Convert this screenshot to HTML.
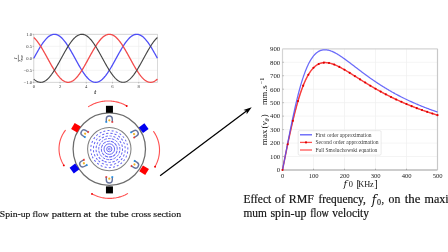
<!DOCTYPE html>
<html><head><meta charset="utf-8"><style>
html,body{margin:0;padding:0;background:#fff;overflow:hidden}
svg{display:block}
</style></head><body>
<svg width="448" height="252" viewBox="0 0 448 252">
<g>
<line x1="33.8" y1="34.3" x2="33.8" y2="82.3" stroke="#ebebeb" stroke-width="0.6"/>
<line x1="60.03" y1="34.3" x2="60.03" y2="82.3" stroke="#ebebeb" stroke-width="0.6"/>
<line x1="86.26" y1="34.3" x2="86.26" y2="82.3" stroke="#ebebeb" stroke-width="0.6"/>
<line x1="112.49" y1="34.3" x2="112.49" y2="82.3" stroke="#ebebeb" stroke-width="0.6"/>
<line x1="138.71" y1="34.3" x2="138.71" y2="82.3" stroke="#ebebeb" stroke-width="0.6"/>
<line x1="33.8" y1="34.3" x2="157.4" y2="34.3" stroke="#ebebeb" stroke-width="0.6"/>
<line x1="33.8" y1="46.3" x2="157.4" y2="46.3" stroke="#ebebeb" stroke-width="0.6"/>
<line x1="33.8" y1="58.3" x2="157.4" y2="58.3" stroke="#ebebeb" stroke-width="0.6"/>
<line x1="33.8" y1="70.3" x2="157.4" y2="70.3" stroke="#ebebeb" stroke-width="0.6"/>
<line x1="33.8" y1="82.3" x2="157.4" y2="82.3" stroke="#ebebeb" stroke-width="0.6"/>
<rect x="33.8" y="34.3" width="123.6" height="48" fill="none" stroke="#d0d0d0" stroke-width="0.8"/>
<polyline points="33.8,58.3 34.42,57.17 35.04,56.04 35.65,54.92 36.27,53.8 36.89,52.7 37.51,51.6 38.13,50.53 38.74,49.47 39.36,48.42 39.98,47.4 40.6,46.41 41.22,45.44 41.83,44.5 42.45,43.59 43.07,42.71 43.69,41.87 44.31,41.06 44.92,40.3 45.54,39.57 46.16,38.88 46.78,38.24 47.4,37.64 48.01,37.09 48.63,36.58 49.25,36.13 49.87,35.72 50.49,35.36 51.1,35.05 51.72,34.8 52.34,34.6 52.96,34.44 53.58,34.35 54.19,34.3 54.81,34.31 55.43,34.37 56.05,34.49 56.67,34.66 57.28,34.88 57.9,35.15 58.52,35.47 59.14,35.85 59.76,36.27 60.37,36.75 60.99,37.27 61.61,37.84 62.23,38.45 62.85,39.11 63.46,39.81 64.08,40.55 64.7,41.33 65.32,42.15 65.94,43 66.55,43.89 67.17,44.81 67.79,45.76 68.41,46.74 69.03,47.74 69.64,48.77 70.26,49.82 70.88,50.88 71.5,51.97 72.12,53.06 72.73,54.17 73.35,55.29 73.97,56.42 74.59,57.55 75.21,58.68 75.82,59.81 76.44,60.93 77.06,62.05 77.68,63.17 78.3,64.27 78.91,65.36 79.53,66.43 80.15,67.48 80.77,68.52 81.39,69.53 82,70.52 82.62,71.48 83.24,72.41 83.86,73.31 84.48,74.17 85.09,75 85.71,75.8 86.33,76.55 86.95,77.26 87.57,77.94 88.18,78.56 88.8,79.15 89.42,79.68 90.04,80.17 90.66,80.61 91.27,81.01 91.89,81.35 92.51,81.64 93.13,81.87 93.75,82.06 94.36,82.19 94.98,82.27 95.6,82.3 96.22,82.27 96.84,82.19 97.45,82.06 98.07,81.87 98.69,81.64 99.31,81.35 99.93,81.01 100.54,80.61 101.16,80.17 101.78,79.68 102.4,79.15 103.02,78.56 103.63,77.94 104.25,77.26 104.87,76.55 105.49,75.8 106.11,75 106.72,74.17 107.34,73.31 107.96,72.41 108.58,71.48 109.2,70.52 109.81,69.53 110.43,68.52 111.05,67.48 111.67,66.43 112.29,65.36 112.9,64.27 113.52,63.17 114.14,62.05 114.76,60.93 115.38,59.81 115.99,58.68 116.61,57.55 117.23,56.42 117.85,55.29 118.47,54.17 119.08,53.06 119.7,51.97 120.32,50.88 120.94,49.82 121.56,48.77 122.17,47.74 122.79,46.74 123.41,45.76 124.03,44.81 124.65,43.89 125.26,43 125.88,42.15 126.5,41.33 127.12,40.55 127.74,39.81 128.35,39.11 128.97,38.45 129.59,37.84 130.21,37.27 130.83,36.75 131.44,36.27 132.06,35.85 132.68,35.47 133.3,35.15 133.92,34.88 134.53,34.66 135.15,34.49 135.77,34.37 136.39,34.31 137.01,34.3 137.62,34.35 138.24,34.44 138.86,34.6 139.48,34.8 140.1,35.05 140.71,35.36 141.33,35.72 141.95,36.13 142.57,36.58 143.19,37.09 143.8,37.64 144.42,38.24 145.04,38.88 145.66,39.57 146.28,40.3 146.89,41.06 147.51,41.87 148.13,42.71 148.75,43.59 149.37,44.5 149.98,45.44 150.6,46.41 151.22,47.4 151.84,48.42 152.46,49.47 153.07,50.53 153.69,51.6 154.31,52.7 154.93,53.8 155.55,54.92 156.16,56.04 156.78,57.17 157.4,58.3" fill="none" stroke="#4f4ff7" stroke-width="1.3"/>
<polyline points="33.8,37.52 34.42,38.1 35.04,38.74 35.65,39.41 36.27,40.13 36.89,40.89 37.51,41.69 38.13,42.52 38.74,43.39 39.36,44.3 39.98,45.23 40.6,46.19 41.22,47.18 41.83,48.2 42.45,49.23 43.07,50.29 43.69,51.36 44.31,52.45 44.92,53.56 45.54,54.67 46.16,55.79 46.78,56.92 47.4,58.05 48.01,59.18 48.63,60.31 49.25,61.43 49.87,62.55 50.49,63.66 51.1,64.75 51.72,65.84 52.34,66.9 52.96,67.95 53.58,68.97 54.19,69.97 54.81,70.95 55.43,71.89 56.05,72.81 56.67,73.69 57.28,74.55 57.9,75.36 58.52,76.14 59.14,76.87 59.76,77.57 60.37,78.22 60.99,78.83 61.61,79.39 62.23,79.91 62.85,80.38 63.46,80.79 64.08,81.16 64.7,81.48 65.32,81.75 65.94,81.96 66.55,82.13 67.17,82.24 67.79,82.29 68.41,82.29 69.03,82.24 69.64,82.14 70.26,81.98 70.88,81.78 71.5,81.51 72.12,81.2 72.73,80.84 73.35,80.42 73.97,79.96 74.59,79.45 75.21,78.89 75.82,78.29 76.44,77.64 77.06,76.95 77.68,76.22 78.3,75.45 78.91,74.64 79.53,73.79 80.15,72.91 80.77,72 81.39,71.05 82,70.08 82.62,69.08 83.24,68.06 83.86,67.02 84.48,65.96 85.09,64.88 85.71,63.78 86.33,62.67 86.95,61.56 87.57,60.43 88.18,59.31 88.8,58.17 89.42,57.04 90.04,55.92 90.66,54.79 91.27,53.68 91.89,52.58 92.51,51.48 93.13,50.41 93.75,49.35 94.36,48.31 94.98,47.29 95.6,46.3 96.22,45.33 96.84,44.4 97.45,43.49 98.07,42.62 98.69,41.78 99.31,40.98 99.93,40.21 100.54,39.49 101.16,38.81 101.78,38.17 102.4,37.58 103.02,37.03 103.63,36.53 104.25,36.08 104.87,35.68 105.49,35.32 106.11,35.02 106.72,34.77 107.34,34.58 107.96,34.43 108.58,34.34 109.2,34.3 109.81,34.32 110.43,34.38 111.05,34.51 111.67,34.68 112.29,34.91 112.9,35.18 113.52,35.51 114.14,35.89 114.76,36.32 115.38,36.8 115.99,37.33 116.61,37.9 117.23,38.52 117.85,39.18 118.47,39.89 119.08,40.63 119.7,41.42 120.32,42.24 120.94,43.1 121.56,43.99 122.17,44.91 122.79,45.87 123.41,46.85 124.03,47.85 124.65,48.88 125.26,49.93 125.88,51 126.5,52.09 127.12,53.19 127.74,54.3 128.35,55.42 128.97,56.54 129.59,57.67 130.21,58.8 130.83,59.93 131.44,61.06 132.06,62.18 132.68,63.29 133.3,64.39 133.92,65.48 134.53,66.55 135.15,67.6 135.77,68.63 136.39,69.64 137.01,70.62 137.62,71.58 138.24,72.51 138.86,73.4 139.48,74.27 140.1,75.09 140.71,75.88 141.33,76.63 141.95,77.34 142.57,78.01 143.19,78.63 143.8,79.21 144.42,79.74 145.04,80.23 145.66,80.66 146.28,81.05 146.89,81.38 147.51,81.67 148.13,81.9 148.75,82.08 149.37,82.2 149.98,82.28 150.6,82.3 151.22,82.27 151.84,82.18 152.46,82.04 153.07,81.85 153.69,81.61 154.31,81.31 154.93,80.97 155.55,80.57 156.16,80.12 156.78,79.63 157.4,79.08" fill="none" stroke="#f24a4a" stroke-width="1.3"/>
<polyline points="33.8,79.08 34.42,79.63 35.04,80.12 35.65,80.57 36.27,80.97 36.89,81.31 37.51,81.61 38.13,81.85 38.74,82.04 39.36,82.18 39.98,82.27 40.6,82.3 41.22,82.28 41.83,82.2 42.45,82.08 43.07,81.9 43.69,81.67 44.31,81.38 44.92,81.05 45.54,80.66 46.16,80.23 46.78,79.74 47.4,79.21 48.01,78.63 48.63,78.01 49.25,77.34 49.87,76.63 50.49,75.88 51.1,75.09 51.72,74.27 52.34,73.4 52.96,72.51 53.58,71.58 54.19,70.62 54.81,69.64 55.43,68.63 56.05,67.6 56.67,66.55 57.28,65.48 57.9,64.39 58.52,63.29 59.14,62.18 59.76,61.06 60.37,59.93 60.99,58.8 61.61,57.67 62.23,56.54 62.85,55.42 63.46,54.3 64.08,53.19 64.7,52.09 65.32,51 65.94,49.93 66.55,48.88 67.17,47.85 67.79,46.85 68.41,45.87 69.03,44.91 69.64,43.99 70.26,43.1 70.88,42.24 71.5,41.42 72.12,40.63 72.73,39.89 73.35,39.18 73.97,38.52 74.59,37.9 75.21,37.33 75.82,36.8 76.44,36.32 77.06,35.89 77.68,35.51 78.3,35.18 78.91,34.91 79.53,34.68 80.15,34.51 80.77,34.38 81.39,34.32 82,34.3 82.62,34.34 83.24,34.43 83.86,34.58 84.48,34.77 85.09,35.02 85.71,35.32 86.33,35.68 86.95,36.08 87.57,36.53 88.18,37.03 88.8,37.58 89.42,38.17 90.04,38.81 90.66,39.49 91.27,40.21 91.89,40.98 92.51,41.78 93.13,42.62 93.75,43.49 94.36,44.4 94.98,45.33 95.6,46.3 96.22,47.29 96.84,48.31 97.45,49.35 98.07,50.41 98.69,51.48 99.31,52.58 99.93,53.68 100.54,54.79 101.16,55.92 101.78,57.04 102.4,58.17 103.02,59.31 103.63,60.43 104.25,61.56 104.87,62.67 105.49,63.78 106.11,64.88 106.72,65.96 107.34,67.02 107.96,68.06 108.58,69.08 109.2,70.08 109.81,71.05 110.43,72 111.05,72.91 111.67,73.79 112.29,74.64 112.9,75.45 113.52,76.22 114.14,76.95 114.76,77.64 115.38,78.29 115.99,78.89 116.61,79.45 117.23,79.96 117.85,80.42 118.47,80.84 119.08,81.2 119.7,81.51 120.32,81.78 120.94,81.98 121.56,82.14 122.17,82.24 122.79,82.29 123.41,82.29 124.03,82.24 124.65,82.13 125.26,81.96 125.88,81.75 126.5,81.48 127.12,81.16 127.74,80.79 128.35,80.38 128.97,79.91 129.59,79.39 130.21,78.83 130.83,78.22 131.44,77.57 132.06,76.87 132.68,76.14 133.3,75.36 133.92,74.55 134.53,73.69 135.15,72.81 135.77,71.89 136.39,70.95 137.01,69.97 137.62,68.97 138.24,67.95 138.86,66.9 139.48,65.84 140.1,64.75 140.71,63.66 141.33,62.55 141.95,61.43 142.57,60.31 143.19,59.18 143.8,58.05 144.42,56.92 145.04,55.79 145.66,54.67 146.28,53.56 146.89,52.45 147.51,51.36 148.13,50.29 148.75,49.23 149.37,48.2 149.98,47.18 150.6,46.19 151.22,45.23 151.84,44.3 152.46,43.39 153.07,42.52 153.69,41.69 154.31,40.89 154.93,40.13 155.55,39.41 156.16,38.74 156.78,38.1 157.4,37.52" fill="none" stroke="#454545" stroke-width="1.15"/>
<text x="32" y="35.8" font-size="4.6" text-anchor="end" fill="#333" font-family="Liberation Serif, serif">1.0</text>
<line x1="32.6" y1="34.3" x2="33.8" y2="34.3" stroke="#777" stroke-width="0.5"/>
<text x="32" y="47.8" font-size="4.6" text-anchor="end" fill="#333" font-family="Liberation Serif, serif">0.5</text>
<line x1="32.6" y1="46.3" x2="33.8" y2="46.3" stroke="#777" stroke-width="0.5"/>
<text x="32" y="59.8" font-size="4.6" text-anchor="end" fill="#333" font-family="Liberation Serif, serif">0.0</text>
<line x1="32.6" y1="58.3" x2="33.8" y2="58.3" stroke="#777" stroke-width="0.5"/>
<text x="32" y="71.8" font-size="4.6" text-anchor="end" fill="#333" font-family="Liberation Serif, serif">−0.5</text>
<line x1="32.6" y1="70.3" x2="33.8" y2="70.3" stroke="#777" stroke-width="0.5"/>
<text x="32" y="83.8" font-size="4.6" text-anchor="end" fill="#333" font-family="Liberation Serif, serif">−1.0</text>
<line x1="32.6" y1="82.3" x2="33.8" y2="82.3" stroke="#777" stroke-width="0.5"/>
<text x="33.8" y="88.2" font-size="4.6" text-anchor="middle" fill="#333" font-family="Liberation Serif, serif">0</text>
<line x1="33.8" y1="82.3" x2="33.8" y2="83.39999999999999" stroke="#777" stroke-width="0.5"/>
<text x="60.03" y="88.2" font-size="4.6" text-anchor="middle" fill="#333" font-family="Liberation Serif, serif">2</text>
<line x1="60.03" y1="82.3" x2="60.03" y2="83.39999999999999" stroke="#777" stroke-width="0.5"/>
<text x="86.26" y="88.2" font-size="4.6" text-anchor="middle" fill="#333" font-family="Liberation Serif, serif">4</text>
<line x1="86.26" y1="82.3" x2="86.26" y2="83.39999999999999" stroke="#777" stroke-width="0.5"/>
<text x="112.49" y="88.2" font-size="4.6" text-anchor="middle" fill="#333" font-family="Liberation Serif, serif">6</text>
<line x1="112.49" y1="82.3" x2="112.49" y2="83.39999999999999" stroke="#777" stroke-width="0.5"/>
<text x="138.71" y="88.2" font-size="4.6" text-anchor="middle" fill="#333" font-family="Liberation Serif, serif">8</text>
<line x1="138.71" y1="82.3" x2="138.71" y2="83.39999999999999" stroke="#777" stroke-width="0.5"/>
<text x="94.2" y="93.5" font-size="6.8" font-style="italic" fill="#222" stroke="#222" stroke-width="0.15" font-family="Liberation Serif, serif">t</text>
<g transform="translate(17.3,58.3) rotate(-90)"><text x="0" y="0" font-size="5" text-anchor="middle" fill="#222" font-family="Liberation Serif, serif" font-style="italic">I</text><line x1="-3.5" y1="1.1" x2="3.5" y2="1.1" stroke="#333" stroke-width="0.55"/><text x="-3.4" y="4.7" font-size="4.6" fill="#222" font-family="Liberation Serif, serif" font-style="italic">I<tspan font-size="3.1" dy="0.7">max</tspan></text></g>
</g>
<g>
<circle cx="109.3" cy="149.1" r="0.9" fill="none" stroke="#6262f2" stroke-width="0.8"/>
<circle cx="109.3" cy="149.1" r="2.65" fill="none" stroke="#6262f2" stroke-width="0.95"/>
<circle cx="109.3" cy="149.1" r="5.3" fill="none" stroke="#6262f2" stroke-width="0.95"/>
<circle cx="109.3" cy="149.1" r="7.95" fill="none" stroke="#6262f2" stroke-width="0.95" stroke-dasharray="3.33 0.83" transform="rotate(69 109.3 149.1)"/>
<circle cx="109.3" cy="149.1" r="10.6" fill="none" stroke="#6262f2" stroke-width="0.95" stroke-dasharray="2.71 1.21" transform="rotate(92 109.3 149.1)"/>
<circle cx="109.3" cy="149.1" r="13.25" fill="none" stroke="#6262f2" stroke-width="0.95" stroke-dasharray="2.38 1.59" transform="rotate(115 109.3 149.1)"/>
<circle cx="109.3" cy="149.1" r="15.9" fill="none" stroke="#6262f2" stroke-width="0.95" stroke-dasharray="2.23 1.93" transform="rotate(138 109.3 149.1)"/>
<circle cx="109.3" cy="149.1" r="18.55" fill="none" stroke="#6262f2" stroke-width="0.95" stroke-dasharray="1.98 2.18" transform="rotate(161 109.3 149.1)"/>
<circle cx="109.3" cy="149.1" r="21.7" fill="none" stroke="#808080" stroke-width="1.05"/>
<circle cx="109.3" cy="149.1" r="36.2" fill="none" stroke="#6c6c6c" stroke-width="1.25"/>
<rect x="105.95" y="105.8" width="7" height="7" fill="#000" transform="rotate(0 109.45 109.3)"/>
<g transform="translate(109.3,119) rotate(0)"><path d="M-3,3 L-3,0 A3,3 0 0 1 3,0 L3,3" fill="none" stroke="#66739c" stroke-width="1.4"/><rect x="-3.9" y="2.2" width="1.8" height="1.6" fill="#1f8de0"/><rect x="2.1" y="2.2" width="1.8" height="1.6" fill="#e23a3a"/><circle cx="0" cy="1.3" r="1.1" fill="#f0b428"/></g>
<rect x="72.4" y="124.2" width="7" height="7" fill="#f00" transform="rotate(30.5 75.9 127.7)"/>
<g transform="translate(84.03,132.94) rotate(-57.4)"><path d="M-3,3 L-3,0 A3,3 0 0 1 3,0 L3,3" fill="none" stroke="#66739c" stroke-width="1.4"/><rect x="-3.9" y="2.2" width="1.8" height="1.6" fill="#1f8de0"/><rect x="2.1" y="2.2" width="1.8" height="1.6" fill="#e23a3a"/><circle cx="0" cy="1.3" r="1.1" fill="#f0b428"/></g>
<rect x="140.2" y="124.7" width="7" height="7" fill="#0000f0" transform="rotate(-37 143.7 128.2)"/>
<g transform="translate(135.19,133.36) rotate(58.7)"><path d="M-3,3 L-3,0 A3,3 0 0 1 3,0 L3,3" fill="none" stroke="#66739c" stroke-width="1.4"/><rect x="-3.9" y="2.2" width="1.8" height="1.6" fill="#1f8de0"/><rect x="2.1" y="2.2" width="1.8" height="1.6" fill="#e23a3a"/><circle cx="0" cy="1.3" r="1.1" fill="#f0b428"/></g>
<rect x="71" y="165" width="7" height="7" fill="#0000f0" transform="rotate(-37 74.5 168.5)"/>
<g transform="translate(82.74,163.88) rotate(-119.1)"><path d="M-3,3 L-3,0 A3,3 0 0 1 3,0 L3,3" fill="none" stroke="#66739c" stroke-width="1.4"/><rect x="-3.9" y="2.2" width="1.8" height="1.6" fill="#1f8de0"/><rect x="2.1" y="2.2" width="1.8" height="1.6" fill="#e23a3a"/><circle cx="0" cy="1.3" r="1.1" fill="#f0b428"/></g>
<rect x="140.6" y="166.7" width="7" height="7" fill="#f00" transform="rotate(31.7 144.1 170.2)"/>
<g transform="translate(135.56,165) rotate(-238.8)"><path d="M-3,3 L-3,0 A3,3 0 0 1 3,0 L3,3" fill="none" stroke="#66739c" stroke-width="1.4"/><rect x="-3.9" y="2.2" width="1.8" height="1.6" fill="#1f8de0"/><rect x="2.1" y="2.2" width="1.8" height="1.6" fill="#e23a3a"/><circle cx="0" cy="1.3" r="1.1" fill="#f0b428"/></g>
<rect x="105.95" y="186.4" width="7" height="7" fill="#000" transform="rotate(0 109.45 189.9)"/>
<g transform="translate(109.3,180) rotate(-180)"><path d="M-3,3 L-3,0 A3,3 0 0 1 3,0 L3,3" fill="none" stroke="#66739c" stroke-width="1.4"/><rect x="-3.9" y="2.2" width="1.8" height="1.6" fill="#1f8de0"/><rect x="2.1" y="2.2" width="1.8" height="1.6" fill="#e23a3a"/><circle cx="0" cy="1.3" r="1.1" fill="#f0b428"/></g>
<polyline points="88.48,106.63 89.34,106.11 90.21,105.61 91.1,105.14 92,104.68 92.91,104.26 93.83,103.85 94.76,103.48 95.7,103.12 96.65,102.8 97.61,102.5 98.58,102.22 99.56,101.98 100.54,101.75 101.52,101.56 102.51,101.39 103.51,101.25 104.51,101.14 105.51,101.05 106.51,100.99 107.52,100.96 108.52,100.95 109.53,100.97 110.53,101.02 111.53,101.1 112.53,101.2 113.53,101.33 114.52,101.49 115.51,101.67 116.5,101.88 117.47,102.12 118.44,102.39 119.41,102.68 120.36,102.99 121.31,103.33 122.24,103.7 123.17,104.09 124.08,104.51 124.98,104.95 125.88,105.42 126.75,105.91" fill="none" stroke="#ff5050" stroke-width="1.1" stroke-linecap="round"/>
<circle cx="126.7" cy="106" r="0.95" fill="#ee0000"/>
<polyline points="127.57,193.62 126.76,194.07 125.93,194.5 125.1,194.91 124.26,195.3 123.4,195.66 122.54,196 121.67,196.32 120.79,196.62 119.9,196.89 119.01,197.15 118.11,197.38 117.2,197.58 116.29,197.77 115.37,197.93 114.46,198.06 113.53,198.17 112.61,198.26 111.68,198.33 110.76,198.37 109.83,198.39 108.9,198.38 107.97,198.35 107.04,198.3 106.12,198.22 105.19,198.12 104.27,198 103.36,197.85 102.44,197.68 101.54,197.49 100.63,197.27 99.74,197.03 98.85,196.77 97.96,196.48 97.09,196.17 96.22,195.84 95.36,195.49 94.51,195.11 93.67,194.72 92.84,194.3 92.02,193.86" fill="none" stroke="#ff5050" stroke-width="1.1" stroke-linecap="round"/>
<circle cx="92" cy="193.9" r="0.95" fill="#ee0000"/>
<polyline points="65.36,130.37 64.8,131.11 64.26,131.87 63.75,132.65 63.26,133.45 62.79,134.26 62.35,135.08 61.94,135.92 61.55,136.77 61.19,137.63 60.86,138.5 60.55,139.38 60.27,140.27 60.02,141.17 59.8,142.07 59.6,142.98 59.43,143.9 59.3,144.83 59.19,145.75 59.1,146.68 59.05,147.61 59.03,148.54 59.03,149.48 59.07,150.41 59.13,151.34 59.22,152.27 59.34,153.19 59.49,154.12 59.67,155.03 59.88,155.94 60.11,156.84 60.37,157.74 60.66,158.63 60.98,159.5 61.32,160.37 61.69,161.23 62.09,162.07 62.51,162.9 62.96,163.72 63.43,164.53 63.93,165.31" fill="none" stroke="#ff5050" stroke-width="1.1" stroke-linecap="round"/>
<circle cx="63.8" cy="165.4" r="0.95" fill="#ee0000"/>
<polyline points="153.61,131.55 154.14,132.32 154.64,133.09 155.12,133.89 155.58,134.69 156.01,135.51 156.42,136.35 156.81,137.19 157.17,138.04 157.5,138.91 157.82,139.78 158.1,140.67 158.36,141.56 158.59,142.45 158.8,143.36 158.98,144.27 159.14,145.18 159.27,146.1 159.37,147.02 159.44,147.95 159.49,148.87 159.51,149.8 159.5,150.73 159.47,151.66 159.41,152.58 159.33,153.5 159.21,154.43 159.07,155.34 158.9,156.25 158.71,157.16 158.49,158.06 158.25,158.96 157.98,159.85 157.68,160.72 157.36,161.59 157.01,162.45 156.64,163.3 156.24,164.14 155.82,164.97 155.38,165.78 154.91,166.58" fill="none" stroke="#ff5050" stroke-width="1.1" stroke-linecap="round"/>
<circle cx="155.1" cy="166.7" r="0.95" fill="#ee0000"/>
</g>
<line x1="160.1" y1="175.7" x2="248.5" y2="109.6" stroke="#000" stroke-width="1.25"/>
<path d="M251.7,107.2 L246.67,114.33 L246.65,110.97 L243.44,110.01 Z" fill="#000"/>
<line x1="313.5" y1="48.8" x2="313.5" y2="170.0" stroke="#efefef" stroke-width="0.7"/>
<line x1="344.5" y1="48.8" x2="344.5" y2="170.0" stroke="#efefef" stroke-width="0.7"/>
<line x1="375.5" y1="48.8" x2="375.5" y2="170.0" stroke="#efefef" stroke-width="0.7"/>
<line x1="406.5" y1="48.8" x2="406.5" y2="170.0" stroke="#efefef" stroke-width="0.7"/>
<line x1="282.5" y1="156.53" x2="437.5" y2="156.53" stroke="#efefef" stroke-width="0.7"/>
<line x1="282.5" y1="143.07" x2="437.5" y2="143.07" stroke="#efefef" stroke-width="0.7"/>
<line x1="282.5" y1="129.6" x2="437.5" y2="129.6" stroke="#efefef" stroke-width="0.7"/>
<line x1="282.5" y1="116.13" x2="437.5" y2="116.13" stroke="#efefef" stroke-width="0.7"/>
<line x1="282.5" y1="102.67" x2="437.5" y2="102.67" stroke="#efefef" stroke-width="0.7"/>
<line x1="282.5" y1="89.2" x2="437.5" y2="89.2" stroke="#efefef" stroke-width="0.7"/>
<line x1="282.5" y1="75.73" x2="437.5" y2="75.73" stroke="#efefef" stroke-width="0.7"/>
<line x1="282.5" y1="62.27" x2="437.5" y2="62.27" stroke="#efefef" stroke-width="0.7"/>
<line x1="282.5" y1="48.8" x2="437.5" y2="48.8" stroke="#d4d4d4" stroke-width="1.2"/>
<line x1="437.5" y1="48.8" x2="437.5" y2="170.0" stroke="#c8c8c8" stroke-width="1.2"/>
<line x1="282.5" y1="48.8" x2="282.5" y2="170.0" stroke="#d4d4d4" stroke-width="1.2"/>
<line x1="282.5" y1="170.0" x2="437.5" y2="170.0" stroke="#bdbdbd" stroke-width="1.5"/>
<line x1="282.5" y1="156.53" x2="283.8" y2="156.53" stroke="#888" stroke-width="0.6"/>
<line x1="282.5" y1="143.07" x2="283.8" y2="143.07" stroke="#888" stroke-width="0.6"/>
<line x1="282.5" y1="129.6" x2="283.8" y2="129.6" stroke="#888" stroke-width="0.6"/>
<line x1="282.5" y1="116.13" x2="283.8" y2="116.13" stroke="#888" stroke-width="0.6"/>
<line x1="282.5" y1="102.67" x2="283.8" y2="102.67" stroke="#888" stroke-width="0.6"/>
<line x1="282.5" y1="89.2" x2="283.8" y2="89.2" stroke="#888" stroke-width="0.6"/>
<line x1="282.5" y1="75.73" x2="283.8" y2="75.73" stroke="#888" stroke-width="0.6"/>
<line x1="282.5" y1="62.27" x2="283.8" y2="62.27" stroke="#888" stroke-width="0.6"/>
<line x1="313.5" y1="170.0" x2="313.5" y2="168.7" stroke="#888" stroke-width="0.6"/>
<line x1="344.5" y1="170.0" x2="344.5" y2="168.7" stroke="#888" stroke-width="0.6"/>
<line x1="375.5" y1="170.0" x2="375.5" y2="168.7" stroke="#888" stroke-width="0.6"/>
<line x1="406.5" y1="170.0" x2="406.5" y2="168.7" stroke="#888" stroke-width="0.6"/>
<polyline points="282.5,170 283.02,167.4 283.53,164.8 284.05,162.21 284.57,159.62 285.08,157.04 285.6,154.48 286.12,151.92 286.63,149.38 287.15,146.86 287.67,144.36 288.18,141.88 288.7,139.43 289.22,137 289.73,134.59 290.25,132.22 290.77,129.87 291.28,127.56 291.8,125.29 292.32,123.04 292.83,120.84 293.35,118.67 293.87,116.54 294.38,114.45 294.9,112.41 295.42,110.4 295.93,108.44 296.45,106.52 296.97,104.64 297.48,102.81 298,101.02 298.52,99.28 299.03,97.59 299.55,95.94 300.07,94.33 300.58,92.78 301.1,91.26 301.62,89.8 302.13,88.38 302.65,87 303.17,85.67 303.68,84.39 304.2,83.15 304.72,81.95 305.23,80.8 305.75,79.69 306.27,78.63 306.78,77.6 307.3,76.62 307.82,75.68 308.33,74.78 308.85,73.91 309.37,73.09 309.88,72.31 310.4,71.56 310.92,70.85 311.43,70.17 311.95,69.53 312.47,68.92 312.98,68.35 313.5,67.81 314.02,67.3 314.53,66.82 315.05,66.37 315.57,65.95 316.08,65.57 316.6,65.2 317.12,64.87 317.63,64.56 318.15,64.28 318.67,64.02 319.18,63.78 319.7,63.57 320.22,63.39 320.73,63.22 321.25,63.07 321.77,62.95 322.28,62.84 322.8,62.76 323.32,62.69 323.83,62.64 324.35,62.61 324.87,62.59 325.38,62.6 325.9,62.61 326.42,62.64 326.93,62.69 327.45,62.75 327.97,62.82 328.48,62.91 329,63.01 329.52,63.12 330.03,63.24 330.55,63.37 331.07,63.51 331.58,63.66 332.1,63.83 332.62,64 333.13,64.18 333.65,64.37 334.17,64.57 334.68,64.77 335.2,64.98 335.72,65.2 336.23,65.43 336.75,65.66 337.27,65.9 337.78,66.15 338.3,66.4 338.82,66.65 339.33,66.92 339.85,67.18 340.37,67.45 340.88,67.73 341.4,68.01 341.92,68.29 342.43,68.57 342.95,68.86 343.47,69.16 343.98,69.45 344.5,69.75 345.02,70.05 345.53,70.36 346.05,70.66 346.57,70.97 347.08,71.28 347.6,71.59 348.12,71.91 348.63,72.22 349.15,72.54 349.67,72.86 350.18,73.18 350.7,73.5 351.22,73.82 351.73,74.14 352.25,74.47 352.77,74.79 353.28,75.12 353.8,75.44 354.32,75.77 354.83,76.09 355.35,76.42 355.87,76.75 356.38,77.07 356.9,77.4 357.42,77.72 357.93,78.05 358.45,78.38 358.97,78.7 359.48,79.03 360,79.35 360.52,79.67 361.03,80 361.55,80.32 362.07,80.64 362.58,80.97 363.1,81.29 363.62,81.61 364.13,81.93 364.65,82.25 365.17,82.56 365.68,82.88 366.2,83.2 366.72,83.51 367.23,83.83 367.75,84.14 368.27,84.45 368.78,84.76 369.3,85.07 369.82,85.38 370.33,85.69 370.85,86 371.37,86.3 371.88,86.61 372.4,86.91 372.92,87.22 373.43,87.52 373.95,87.82 374.47,88.11 374.98,88.41 375.5,88.71 376.02,89 376.53,89.3 377.05,89.59 377.57,89.88 378.08,90.17 378.6,90.46 379.12,90.74 379.63,91.03 380.15,91.31 380.67,91.6 381.18,91.88 381.7,92.16 382.22,92.44 382.73,92.72 383.25,92.99 383.77,93.27 384.28,93.54 384.8,93.81 385.32,94.08 385.83,94.35 386.35,94.62 386.87,94.89 387.38,95.15 387.9,95.42 388.42,95.68 388.93,95.94 389.45,96.2 389.97,96.46 390.48,96.72 391,96.97 391.52,97.23 392.03,97.48 392.55,97.73 393.07,97.98 393.58,98.23 394.1,98.48 394.62,98.73 395.13,98.97 395.65,99.21 396.17,99.46 396.68,99.7 397.2,99.94 397.72,100.18 398.23,100.41 398.75,100.65 399.27,100.89 399.78,101.12 400.3,101.35 400.82,101.58 401.33,101.81 401.85,102.04 402.37,102.27 402.88,102.49 403.4,102.72 403.92,102.94 404.43,103.17 404.95,103.39 405.47,103.61 405.98,103.83 406.5,104.04 407.02,104.26 407.53,104.48 408.05,104.69 408.57,104.9 409.08,105.11 409.6,105.32 410.12,105.53 410.63,105.74 411.15,105.95 411.67,106.16 412.18,106.36 412.7,106.56 413.22,106.77 413.73,106.97 414.25,107.17 414.77,107.37 415.28,107.57 415.8,107.76 416.32,107.96 416.83,108.16 417.35,108.35 417.87,108.54 418.38,108.74 418.9,108.93 419.42,109.12 419.93,109.31 420.45,109.49 420.97,109.68 421.48,109.87 422,110.05 422.52,110.23 423.03,110.42 423.55,110.6 424.07,110.78 424.58,110.96 425.1,111.14 425.62,111.32 426.13,111.49 426.65,111.67 427.17,111.85 427.68,112.02 428.2,112.19 428.72,112.37 429.23,112.54 429.75,112.71 430.27,112.88 430.78,113.05 431.3,113.21 431.82,113.38 432.33,113.55 432.85,113.71 433.37,113.88 433.88,114.04 434.4,114.2 434.92,114.37 435.43,114.53 435.95,114.69 436.47,114.85 436.98,115 437.5,115.16" fill="none" stroke="#ff6262" stroke-width="1.5" stroke-opacity="1"/>
<polyline points="282.5,170 283.02,167.4 283.53,164.8 284.05,162.21 284.57,159.62 285.08,157.04 285.6,154.48 286.12,151.92 286.63,149.38 287.15,146.86 287.67,144.36 288.18,141.88 288.7,139.43 289.22,137 289.73,134.59 290.25,132.22 290.77,129.87 291.28,127.56 291.8,125.29 292.32,123.04 292.83,120.84 293.35,118.67 293.87,116.54 294.38,114.45 294.9,112.41 295.42,110.4 295.93,108.44 296.45,106.52 296.97,104.64 297.48,102.81 298,101.02 298.52,99.28 299.03,97.59 299.55,95.94 300.07,94.33 300.58,92.78 301.1,91.26 301.62,89.8 302.13,88.38 302.65,87 303.17,85.67 303.68,84.39 304.2,83.15 304.72,81.95 305.23,80.8 305.75,79.69 306.27,78.63 306.78,77.6 307.3,76.62 307.82,75.68 308.33,74.78 308.85,73.91 309.37,73.09 309.88,72.31 310.4,71.56 310.92,70.85 311.43,70.17 311.95,69.53 312.47,68.92 312.98,68.35 313.5,67.81 314.02,67.3 314.53,66.82 315.05,66.37 315.57,65.95 316.08,65.57 316.6,65.2 317.12,64.87 317.63,64.56 318.15,64.28 318.67,64.02 319.18,63.78 319.7,63.57 320.22,63.39 320.73,63.22 321.25,63.07 321.77,62.95 322.28,62.84 322.8,62.76 323.32,62.69 323.83,62.64 324.35,62.61 324.87,62.59 325.38,62.6 325.9,62.61 326.42,62.64 326.93,62.69 327.45,62.75 327.97,62.82 328.48,62.91 329,63.01 329.52,63.12 330.03,63.24 330.55,63.37 331.07,63.51 331.58,63.66 332.1,63.83 332.62,64 333.13,64.18 333.65,64.37 334.17,64.57 334.68,64.77 335.2,64.98 335.72,65.2 336.23,65.43 336.75,65.66 337.27,65.9 337.78,66.15 338.3,66.4 338.82,66.65 339.33,66.92 339.85,67.18 340.37,67.45 340.88,67.73 341.4,68.01 341.92,68.29 342.43,68.57 342.95,68.86 343.47,69.16 343.98,69.45 344.5,69.75 345.02,70.05 345.53,70.36 346.05,70.66 346.57,70.97 347.08,71.28 347.6,71.59 348.12,71.91 348.63,72.22 349.15,72.54 349.67,72.86 350.18,73.18 350.7,73.5 351.22,73.82 351.73,74.14 352.25,74.47 352.77,74.79 353.28,75.12 353.8,75.44 354.32,75.77 354.83,76.09 355.35,76.42 355.87,76.75 356.38,77.07 356.9,77.4 357.42,77.72 357.93,78.05 358.45,78.38 358.97,78.7 359.48,79.03 360,79.35 360.52,79.67 361.03,80 361.55,80.32 362.07,80.64 362.58,80.97 363.1,81.29 363.62,81.61 364.13,81.93 364.65,82.25 365.17,82.56 365.68,82.88 366.2,83.2 366.72,83.51 367.23,83.83 367.75,84.14 368.27,84.45 368.78,84.76 369.3,85.07 369.82,85.38 370.33,85.69 370.85,86 371.37,86.3 371.88,86.61 372.4,86.91 372.92,87.22 373.43,87.52 373.95,87.82 374.47,88.11 374.98,88.41 375.5,88.71 376.02,89 376.53,89.3 377.05,89.59 377.57,89.88 378.08,90.17 378.6,90.46 379.12,90.74 379.63,91.03 380.15,91.31 380.67,91.6 381.18,91.88 381.7,92.16 382.22,92.44 382.73,92.72 383.25,92.99 383.77,93.27 384.28,93.54 384.8,93.81 385.32,94.08 385.83,94.35 386.35,94.62 386.87,94.89 387.38,95.15 387.9,95.42 388.42,95.68 388.93,95.94 389.45,96.2 389.97,96.46 390.48,96.72 391,96.97 391.52,97.23 392.03,97.48 392.55,97.73 393.07,97.98 393.58,98.23 394.1,98.48 394.62,98.73 395.13,98.97 395.65,99.21 396.17,99.46 396.68,99.7 397.2,99.94 397.72,100.18 398.23,100.41 398.75,100.65 399.27,100.89 399.78,101.12 400.3,101.35 400.82,101.58 401.33,101.81 401.85,102.04 402.37,102.27 402.88,102.49 403.4,102.72 403.92,102.94 404.43,103.17 404.95,103.39 405.47,103.61 405.98,103.83 406.5,104.04 407.02,104.26 407.53,104.48 408.05,104.69 408.57,104.9 409.08,105.11 409.6,105.32 410.12,105.53 410.63,105.74 411.15,105.95 411.67,106.16 412.18,106.36 412.7,106.56 413.22,106.77 413.73,106.97 414.25,107.17 414.77,107.37 415.28,107.57 415.8,107.76 416.32,107.96 416.83,108.16 417.35,108.35 417.87,108.54 418.38,108.74 418.9,108.93 419.42,109.12 419.93,109.31 420.45,109.49 420.97,109.68 421.48,109.87 422,110.05 422.52,110.23 423.03,110.42 423.55,110.6 424.07,110.78 424.58,110.96 425.1,111.14 425.62,111.32 426.13,111.49 426.65,111.67 427.17,111.85 427.68,112.02 428.2,112.19 428.72,112.37 429.23,112.54 429.75,112.71 430.27,112.88 430.78,113.05 431.3,113.21 431.82,113.38 432.33,113.55 432.85,113.71 433.37,113.88 433.88,114.04 434.4,114.2 434.92,114.37 435.43,114.53 435.95,114.69 436.47,114.85 436.98,115 437.5,115.16" fill="none" stroke="#f02a2a" stroke-width="0.8" stroke-opacity="1"/>
<polyline points="282.5,170 283.02,167.35 283.53,164.69 284.05,162.02 284.57,159.34 285.08,156.66 285.6,153.98 286.12,151.3 286.63,148.63 287.15,145.96 287.67,143.3 288.18,140.65 288.7,138.01 289.22,135.39 289.73,132.79 290.25,130.21 290.77,127.65 291.28,125.12 291.8,122.61 292.32,120.13 292.83,117.68 293.35,115.27 293.87,112.88 294.38,110.54 294.9,108.23 295.42,105.96 295.93,103.73 296.45,101.55 296.97,99.4 297.48,97.3 298,95.25 298.52,93.24 299.03,91.28 299.55,89.36 300.07,87.5 300.58,85.68 301.1,83.91 301.62,82.19 302.13,80.52 302.65,78.9 303.17,77.33 303.68,75.81 304.2,74.34 304.72,72.92 305.23,71.55 305.75,70.23 306.27,68.96 306.78,67.73 307.3,66.55 307.82,65.43 308.33,64.34 308.85,63.31 309.37,62.32 309.88,61.37 310.4,60.47 310.92,59.61 311.43,58.8 311.95,58.03 312.47,57.29 312.98,56.6 313.5,55.95 314.02,55.34 314.53,54.76 315.05,54.22 315.57,53.72 316.08,53.25 316.6,52.81 317.12,52.41 317.63,52.04 318.15,51.71 318.67,51.4 319.18,51.12 319.7,50.87 320.22,50.65 320.73,50.46 321.25,50.29 321.77,50.14 322.28,50.03 322.8,49.93 323.32,49.86 323.83,49.81 324.35,49.78 324.87,49.77 325.38,49.78 325.9,49.81 326.42,49.86 326.93,49.93 327.45,50.01 327.97,50.11 328.48,50.23 329,50.36 329.52,50.51 330.03,50.67 330.55,50.84 331.07,51.02 331.58,51.22 332.1,51.43 332.62,51.65 333.13,51.89 333.65,52.13 334.17,52.38 334.68,52.64 335.2,52.91 335.72,53.19 336.23,53.48 336.75,53.77 337.27,54.07 337.78,54.38 338.3,54.69 338.82,55.02 339.33,55.34 339.85,55.68 340.37,56.01 340.88,56.36 341.4,56.7 341.92,57.06 342.43,57.41 342.95,57.77 343.47,58.14 343.98,58.5 344.5,58.87 345.02,59.25 345.53,59.62 346.05,60 346.57,60.38 347.08,60.76 347.6,61.15 348.12,61.53 348.63,61.92 349.15,62.31 349.67,62.7 350.18,63.09 350.7,63.49 351.22,63.88 351.73,64.27 352.25,64.67 352.77,65.06 353.28,65.46 353.8,65.85 354.32,66.25 354.83,66.65 355.35,67.04 355.87,67.44 356.38,67.83 356.9,68.23 357.42,68.62 357.93,69.02 358.45,69.41 358.97,69.8 359.48,70.19 360,70.59 360.52,70.98 361.03,71.37 361.55,71.75 362.07,72.14 362.58,72.53 363.1,72.91 363.62,73.3 364.13,73.68 364.65,74.06 365.17,74.44 365.68,74.82 366.2,75.2 366.72,75.57 367.23,75.95 367.75,76.32 368.27,76.69 368.78,77.06 369.3,77.43 369.82,77.8 370.33,78.17 370.85,78.53 371.37,78.89 371.88,79.25 372.4,79.61 372.92,79.97 373.43,80.33 373.95,80.68 374.47,81.03 374.98,81.38 375.5,81.73 376.02,82.08 376.53,82.42 377.05,82.77 377.57,83.11 378.08,83.45 378.6,83.79 379.12,84.12 379.63,84.46 380.15,84.79 380.67,85.12 381.18,85.45 381.7,85.78 382.22,86.11 382.73,86.43 383.25,86.75 383.77,87.07 384.28,87.39 384.8,87.71 385.32,88.03 385.83,88.34 386.35,88.65 386.87,88.96 387.38,89.27 387.9,89.58 388.42,89.88 388.93,90.18 389.45,90.49 389.97,90.78 390.48,91.08 391,91.38 391.52,91.67 392.03,91.97 392.55,92.26 393.07,92.55 393.58,92.83 394.1,93.12 394.62,93.4 395.13,93.69 395.65,93.97 396.17,94.25 396.68,94.52 397.2,94.8 397.72,95.08 398.23,95.35 398.75,95.62 399.27,95.89 399.78,96.16 400.3,96.42 400.82,96.69 401.33,96.95 401.85,97.21 402.37,97.47 402.88,97.73 403.4,97.99 403.92,98.24 404.43,98.5 404.95,98.75 405.47,99 405.98,99.25 406.5,99.5 407.02,99.75 407.53,99.99 408.05,100.24 408.57,100.48 409.08,100.72 409.6,100.96 410.12,101.2 410.63,101.43 411.15,101.67 411.67,101.9 412.18,102.13 412.7,102.37 413.22,102.6 413.73,102.82 414.25,103.05 414.77,103.28 415.28,103.5 415.8,103.72 416.32,103.95 416.83,104.17 417.35,104.39 417.87,104.6 418.38,104.82 418.9,105.04 419.42,105.25 419.93,105.46 420.45,105.68 420.97,105.89 421.48,106.1 422,106.3 422.52,106.51 423.03,106.72 423.55,106.92 424.07,107.12 424.58,107.33 425.1,107.53 425.62,107.73 426.13,107.93 426.65,108.12 427.17,108.32 427.68,108.52 428.2,108.71 428.72,108.9 429.23,109.1 429.75,109.29 430.27,109.48 430.78,109.67 431.3,109.85 431.82,110.04 432.33,110.23 432.85,110.41 433.37,110.59 433.88,110.78 434.4,110.96 434.92,111.14 435.43,111.32 435.95,111.5 436.47,111.68 436.98,111.85 437.5,112.03" fill="none" stroke="#5050f8" stroke-width="1.25" stroke-opacity="0.85"/>
<circle cx="282.5" cy="170" r="1.05" fill="#dd0000"/>
<circle cx="287.67" cy="144.36" r="1.05" fill="#dd0000"/>
<circle cx="292.83" cy="120.84" r="1.05" fill="#dd0000"/>
<circle cx="298" cy="101.02" r="1.05" fill="#dd0000"/>
<circle cx="303.17" cy="85.67" r="1.05" fill="#dd0000"/>
<circle cx="308.33" cy="74.78" r="1.05" fill="#dd0000"/>
<circle cx="313.5" cy="67.81" r="1.05" fill="#dd0000"/>
<circle cx="318.67" cy="64.02" r="1.05" fill="#dd0000"/>
<circle cx="323.83" cy="62.64" r="1.05" fill="#dd0000"/>
<circle cx="329" cy="63.01" r="1.05" fill="#dd0000"/>
<circle cx="334.17" cy="64.57" r="1.05" fill="#dd0000"/>
<circle cx="339.33" cy="66.92" r="1.05" fill="#dd0000"/>
<circle cx="344.5" cy="69.75" r="1.05" fill="#dd0000"/>
<circle cx="349.67" cy="72.86" r="1.05" fill="#dd0000"/>
<circle cx="354.83" cy="76.09" r="1.05" fill="#dd0000"/>
<circle cx="360" cy="79.35" r="1.05" fill="#dd0000"/>
<circle cx="365.17" cy="82.56" r="1.05" fill="#dd0000"/>
<circle cx="370.33" cy="85.69" r="1.05" fill="#dd0000"/>
<circle cx="375.5" cy="88.71" r="1.05" fill="#dd0000"/>
<circle cx="380.67" cy="91.6" r="1.05" fill="#dd0000"/>
<circle cx="385.83" cy="94.35" r="1.05" fill="#dd0000"/>
<circle cx="391" cy="96.97" r="1.05" fill="#dd0000"/>
<circle cx="396.17" cy="99.46" r="1.05" fill="#dd0000"/>
<circle cx="401.33" cy="101.81" r="1.05" fill="#dd0000"/>
<circle cx="406.5" cy="104.04" r="1.05" fill="#dd0000"/>
<circle cx="411.67" cy="106.16" r="1.05" fill="#dd0000"/>
<circle cx="416.83" cy="108.16" r="1.05" fill="#dd0000"/>
<circle cx="422" cy="110.05" r="1.05" fill="#dd0000"/>
<circle cx="427.17" cy="111.85" r="1.05" fill="#dd0000"/>
<circle cx="432.33" cy="113.55" r="1.05" fill="#dd0000"/>
<circle cx="437.5" cy="115.16" r="1.05" fill="#dd0000"/>
<text x="280.2" y="172.3" font-size="6.8" text-anchor="end" fill="#222" font-family="Liberation Serif, serif">0</text>
<text x="280.2" y="158.83" font-size="6.8" text-anchor="end" fill="#222" font-family="Liberation Serif, serif">100</text>
<text x="280.2" y="145.37" font-size="6.8" text-anchor="end" fill="#222" font-family="Liberation Serif, serif">200</text>
<text x="280.2" y="131.9" font-size="6.8" text-anchor="end" fill="#222" font-family="Liberation Serif, serif">300</text>
<text x="280.2" y="118.43" font-size="6.8" text-anchor="end" fill="#222" font-family="Liberation Serif, serif">400</text>
<text x="280.2" y="104.97" font-size="6.8" text-anchor="end" fill="#222" font-family="Liberation Serif, serif">500</text>
<text x="280.2" y="91.5" font-size="6.8" text-anchor="end" fill="#222" font-family="Liberation Serif, serif">600</text>
<text x="280.2" y="78.03" font-size="6.8" text-anchor="end" fill="#222" font-family="Liberation Serif, serif">700</text>
<text x="280.2" y="64.57" font-size="6.8" text-anchor="end" fill="#222" font-family="Liberation Serif, serif">800</text>
<text x="280.2" y="51.1" font-size="6.8" text-anchor="end" fill="#222" font-family="Liberation Serif, serif">900</text>
<text x="282.7" y="178" font-size="6.6" text-anchor="middle" fill="#222" font-family="Liberation Serif, serif">0</text>
<text x="313.7" y="178" font-size="6.6" text-anchor="middle" fill="#222" font-family="Liberation Serif, serif">100</text>
<text x="344.7" y="178" font-size="6.6" text-anchor="middle" fill="#222" font-family="Liberation Serif, serif">200</text>
<text x="375.7" y="178" font-size="6.6" text-anchor="middle" fill="#222" font-family="Liberation Serif, serif">300</text>
<text x="406.7" y="178" font-size="6.6" text-anchor="middle" fill="#222" font-family="Liberation Serif, serif">400</text>
<text x="437.7" y="178" font-size="6.6" text-anchor="middle" fill="#222" font-family="Liberation Serif, serif">500</text>
<rect x="298.2" y="130.7" width="82.9" height="24.4" rx="1.2" fill="#fff" fill-opacity="0.85" stroke="#dcdcdc" stroke-width="0.6"/>
<line x1="300" y1="134.8" x2="312" y2="134.8" stroke="#5b5bf8" stroke-width="1.3"/>
<line x1="300" y1="142.4" x2="312" y2="142.4" stroke="#ff5050" stroke-width="1.3"/><circle cx="306" cy="142.4" r="1.1" fill="#dd0000"/>
<line x1="300" y1="150" x2="312" y2="150" stroke="#ff6262" stroke-width="1.4"/>
<text x="315.5" y="136.6" font-size="6" fill="#3a3a3a" font-family="Liberation Serif, serif" textLength="56.1" lengthAdjust="spacingAndGlyphs">First order approximation</text>
<text x="315.5" y="144.2" font-size="6" fill="#3a3a3a" font-family="Liberation Serif, serif" textLength="63.1" lengthAdjust="spacingAndGlyphs">Second order approximation</text>
<text x="315.5" y="151.8" font-size="6" fill="#3a3a3a" font-family="Liberation Serif, serif" textLength="61.8" lengthAdjust="spacingAndGlyphs">Full Smoluchowski equation</text>
<text x="343.6" y="186.6" font-size="9.6" font-style="italic" fill="#111" font-family="DejaVu Serif, serif">f</text>
<text x="348.7" y="186.6" font-size="8.4" fill="#111" font-family="Liberation Serif, serif">0</text>
<text x="356.4" y="187.2" font-size="10.6" fill="#111" font-family="Liberation Serif, serif">[</text>
<text x="358.2" y="186.6" font-size="8.2" fill="#111" font-family="Liberation Serif, serif" textLength="15.6" lengthAdjust="spacingAndGlyphs">KHz</text>
<text x="374.2" y="187.2" font-size="10.6" fill="#111" font-family="Liberation Serif, serif">]</text>
<g transform="translate(267,144.9) rotate(-90)"><text x="-0.3" y="0" font-size="9" font-family="Liberation Serif, serif" fill="#111" textLength="15.6" lengthAdjust="spacingAndGlyphs">max</text><text x="16.3" y="0" font-size="9" font-family="Liberation Serif, serif" fill="#111">(</text><text x="19.6" y="0" font-size="9" font-style="italic" font-family="Liberation Serif, serif" fill="#111">v</text><text x="23.3" y="1.5" font-size="6.2" font-style="italic" font-family="Liberation Serif, serif" fill="#111">θ</text><text x="27.6" y="0" font-size="9" font-family="Liberation Serif, serif" fill="#111">)</text><text x="39.8" y="0" font-size="9" font-family="Liberation Serif, serif" fill="#111" textLength="13.4" lengthAdjust="spacingAndGlyphs">mm</text><text x="53.4" y="0" font-size="9" font-family="Liberation Serif, serif" fill="#111">.</text><text x="56.1" y="0" font-size="9" font-family="Liberation Serif, serif" fill="#111">s</text><text x="60.6" y="-2.9" font-size="6.2" font-family="Liberation Serif, serif" fill="#111">−1</text></g>
<text x="-0.2" y="216.9" font-size="9.1" fill="#111" font-family="Liberation Serif, serif" textLength="30.6" lengthAdjust="spacingAndGlyphs" stroke="#111" stroke-width="0.15">Spin-up</text>
<text x="32.6" y="216.9" font-size="9.1" fill="#111" font-family="Liberation Serif, serif" textLength="16.5" lengthAdjust="spacingAndGlyphs" stroke="#111" stroke-width="0.15">flow</text>
<text x="51.7" y="216.9" font-size="9.1" fill="#111" font-family="Liberation Serif, serif" textLength="29.8" lengthAdjust="spacingAndGlyphs" stroke="#111" stroke-width="0.15">pattern</text>
<text x="83.5" y="216.9" font-size="9.1" fill="#111" font-family="Liberation Serif, serif" textLength="7.9" lengthAdjust="spacingAndGlyphs" stroke="#111" stroke-width="0.15">at</text>
<text x="95.1" y="216.9" font-size="9.1" fill="#111" font-family="Liberation Serif, serif" textLength="13" lengthAdjust="spacingAndGlyphs" stroke="#111" stroke-width="0.15">the</text>
<text x="110.5" y="216.9" font-size="9.1" fill="#111" font-family="Liberation Serif, serif" textLength="18.1" lengthAdjust="spacingAndGlyphs" stroke="#111" stroke-width="0.15">tube</text>
<text x="131.2" y="216.9" font-size="9.1" fill="#111" font-family="Liberation Serif, serif" textLength="19.8" lengthAdjust="spacingAndGlyphs" stroke="#111" stroke-width="0.15">cross</text>
<text x="153.3" y="216.9" font-size="9.1" fill="#111" font-family="Liberation Serif, serif" textLength="27.9" lengthAdjust="spacingAndGlyphs" stroke="#111" stroke-width="0.15">section</text>
<text x="243.4" y="202.8" font-size="11.6" fill="#111" font-family="Liberation Serif, serif" textLength="27.8" lengthAdjust="spacingAndGlyphs" stroke="#111" stroke-width="0.18">Effect</text>
<text x="274.7" y="202.8" font-size="11.6" fill="#111" font-family="Liberation Serif, serif" textLength="10.5" lengthAdjust="spacingAndGlyphs" stroke="#111" stroke-width="0.18">of</text>
<text x="288.8" y="202.8" font-size="11.6" fill="#111" font-family="Liberation Serif, serif" textLength="25.1" lengthAdjust="spacingAndGlyphs" stroke="#111" stroke-width="0.18">RMF</text>
<text x="318.6" y="202.8" font-size="11.6" fill="#111" font-family="Liberation Serif, serif" textLength="47.2" lengthAdjust="spacingAndGlyphs" stroke="#111" stroke-width="0.18">frequency,</text>
<text x="388.6" y="202.8" font-size="11.6" fill="#111" font-family="Liberation Serif, serif" textLength="11.8" lengthAdjust="spacingAndGlyphs" stroke="#111" stroke-width="0.18">on</text>
<text x="404.8" y="202.8" font-size="11.6" fill="#111" font-family="Liberation Serif, serif" textLength="15.7" lengthAdjust="spacingAndGlyphs" stroke="#111" stroke-width="0.18">the</text>
<text x="424.6" y="202.8" font-size="11.6" fill="#111" font-family="Liberation Serif, serif" textLength="28.1" lengthAdjust="spacingAndGlyphs" stroke="#111" stroke-width="0.18">maxi-</text>
<text x="243.5" y="216.6" font-size="11.6" fill="#111" font-family="Liberation Serif, serif" textLength="23.4" lengthAdjust="spacingAndGlyphs" stroke="#111" stroke-width="0.18">mum</text>
<text x="270.4" y="216.6" font-size="11.6" fill="#111" font-family="Liberation Serif, serif" textLength="36" lengthAdjust="spacingAndGlyphs" stroke="#111" stroke-width="0.18">spin-up</text>
<text x="310.2" y="216.6" font-size="11.6" fill="#111" font-family="Liberation Serif, serif" textLength="18.6" lengthAdjust="spacingAndGlyphs" stroke="#111" stroke-width="0.18">flow</text>
<text x="332.3" y="216.6" font-size="11.6" fill="#111" font-family="Liberation Serif, serif" textLength="36.7" lengthAdjust="spacingAndGlyphs" stroke="#111" stroke-width="0.18">velocity</text>
<text x="371.8" y="203.8" font-size="12" font-style="italic" fill="#111" font-family="DejaVu Serif, serif">f</text>
<text x="376.9" y="204.8" font-size="8" fill="#111" stroke="#111" stroke-width="0.12" font-family="Liberation Serif, serif">0</text>
<text x="381.2" y="202.8" font-size="12.2" fill="#111" font-family="Liberation Serif, serif">,</text>
</svg>
</body></html>
